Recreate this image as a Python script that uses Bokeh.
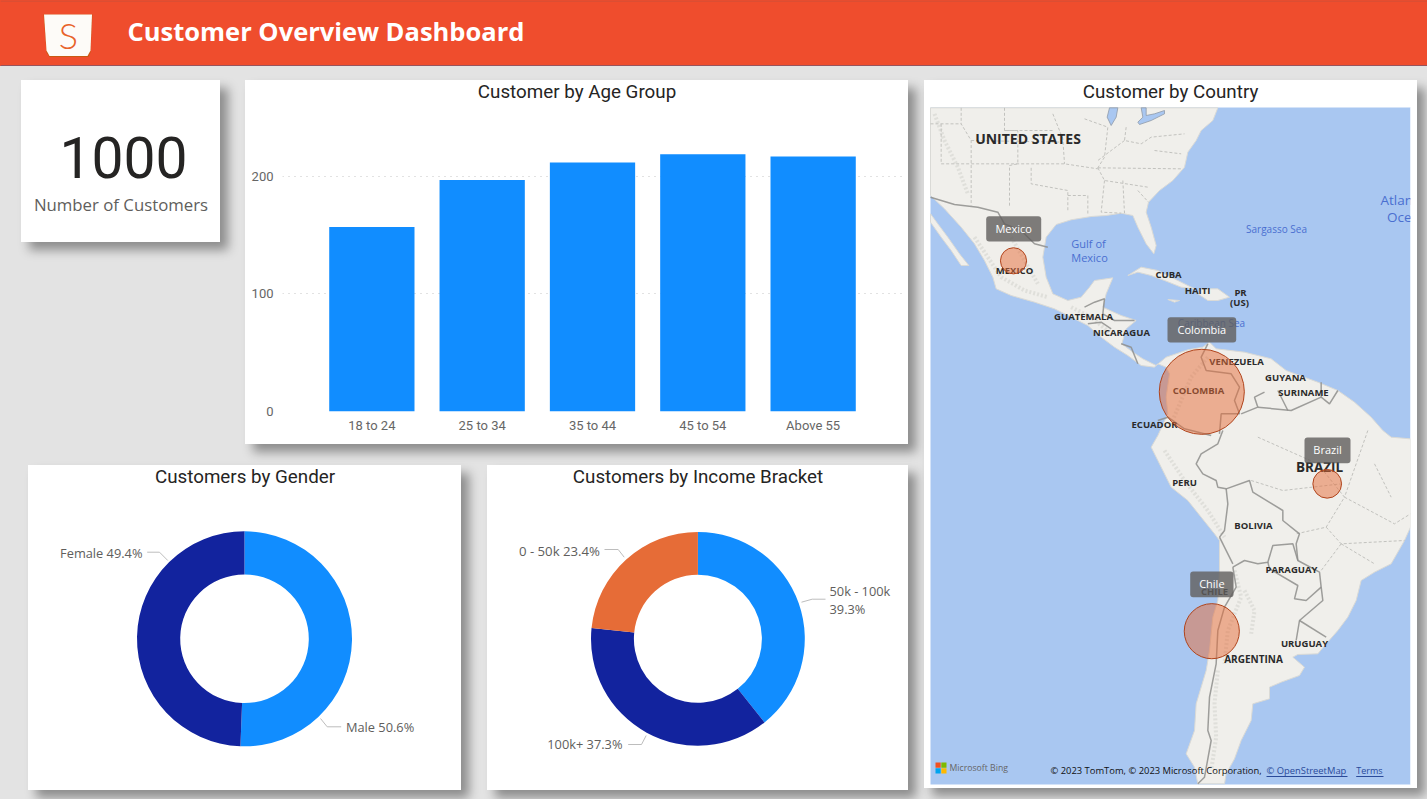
from math import pi, sqrt
from bokeh.plotting import figure
from bokeh.layouts import row, column
from bokeh.models import Range1d, FactorRange, FixedTicker
from bokeh.core.properties import value
from bokeh.embed import file_html
from bokeh.resources import INLINE

# ---------- data ----------
age_groups = ["18 to 24", "25 to 34", "35 to 44", "45 to 54", "Above 55"]
age_counts = [157, 197, 212, 219, 217]
age_ticks = [0, 100, 200]

gender_names = ["Male", "Female"]
gender_share = [50.6, 49.4]
income_names = ["50k - 100k", "100k+", "0 - 50k"]
income_share = [39.3, 37.3, 23.4]

country_names = ["Mexico", "Colombia", "Brazil", "Chile"]
country_customers = [58, 615, 70, 258]

BLUE, NAVY, ORANGE = "#118DFF", "#12239E", "#E66C37"
GREY_BG = "#E3E3E3"
SHADOW = "8px 8px 10px rgba(0,0,0,0.38)"
TITLE_FONT = "Roboto"
BODY_FONT = "Open Sans"
TITLE_SIZE = 18.8
LABEL_SIZE = 12.8


def card(left, top, w, h, margin, shadow=True, bg="white"):
    """A figure whose data coordinates equal the page pixels."""
    st = {"background-color": bg}
    if shadow:
        st["box-shadow"] = SHADOW
    p = figure(width=w, height=h, x_range=Range1d(left, left + w), y_range=Range1d(top + h, top),
               output_backend="svg", toolbar_location=None, min_border=0, margin=margin,
               background_fill_color=None, border_fill_color=None, outline_line_color=None,
               x_axis_location=None, y_axis_location=None, frame_align=False, styles=st)
    p.grid.visible = False
    return p


def put(p, x, y, text, size, color="#252423", font=BODY_FONT, style="normal", align="left", alpha=1.0):
    p.text(x=[x], y=[y - 1], text=[text], text_font=value(font), text_font_size=f"{size}px",
           text_font_style=style, text_color=color, text_align=align, text_baseline="middle",
           text_alpha=alpha)


# ---------- header ----------
hdr = card(0, 0, 1427, 66, (0, 0, 0, 0), shadow=False, bg="#EF4D2D")
hdr.line(x=[0, 1427], y=[65.5, 65.5], line_color="#3F5C8F", line_width=1)
hdr.line(x=[0, 1427], y=[0.5, 0.5], line_color="#C9503A", line_width=1)
hdr.patch(x=[43, 92, 90, 88, 49, 46], y=[14, 14, 52, 56.5, 56.5, 52], fill_color="#C85A12", line_color=None)
hdr.patch(x=[43.5, 91.5, 90, 87, 49, 46], y=[14, 14, 50, 55.5, 55.5, 50], fill_color="#FDFBF8", line_color=None)
put(hdr, 68, 35, "S", 36, color="#E8622A", font="Lato Light", align="center")
put(hdr, 127, 31, "Customer Overview Dashboard", 25.5, color="white", font=BODY_FONT, style="bold")

# ---------- KPI ----------
kpi = card(21, 80, 199, 162, (14, 0, 0, 21))
put(kpi, 123, 158, "1000", 57, color="#252423", font=TITLE_FONT, align="center")
put(kpi, 120.5, 205, "Number of Customers", 16.8, color="#605E5C", align="center")

# ---------- age bars: a title strip above the plot, both forming one card ----------
age_head = card(245, 80, 663, 27, (0, 0, 0, 0), shadow=False)
put(age_head, 576.5, 92, "Customer by Age Group", TITLE_SIZE, font=TITLE_FONT, align="center")

age = figure(width=663, height=337, x_range=FactorRange(factors=age_groups, range_padding=0.124),
             y_range=Range1d(0, 258.7), output_backend="svg", toolbar_location=None,
             min_border_left=37, min_border_right=6, min_border_top=0, min_border_bottom=33,
             margin=(0, 0, 0, 0), outline_line_color=None, background_fill_color=None,
             border_fill_color=None, frame_align=False, styles={"background-color": "white"})
age.vbar(x=age_groups, top=age_counts, width=0.773, fill_color=BLUE, line_color=None)
for ax_ in (age.xaxis, age.yaxis):
    ax_.axis_line_color = None
    ax_.major_tick_line_color = None
    ax_.minor_tick_line_color = None
    ax_.major_tick_out = 0
    ax_.major_tick_in = 0
    ax_.major_label_text_font = TITLE_FONT
    ax_.major_label_text_font_size = "13px"
    ax_.major_label_text_color = "#666666"
age.xaxis.major_label_standoff = 6
age.yaxis.ticker = FixedTicker(ticks=age_ticks)
age.yaxis.major_label_standoff = 9
age.xgrid.visible = False
age.ygrid.ticker = FixedTicker(ticks=age_ticks)
age.ygrid.grid_line_color = "#C4C4C4"
age.ygrid.grid_line_dash = "1 5"
age_card = column(age_head, age, margin=(14, 0, 0, 25), spacing=0,
                  styles={"box-shadow": SHADOW, "background-color": "white"})


# ---------- donuts ----------
def donut(p, cx, cy, r_out, r_in, shares, colors):
    total = sum(shares)
    a = pi / 2
    starts, ends = [], []
    for s in shares:
        starts.append(a)
        a -= 2 * pi * s / total
        ends.append(a)
    p.annular_wedge(x=[cx] * len(shares), y=[cy] * len(shares), inner_radius=r_in, outer_radius=r_out,
                    start_angle=starts, end_angle=ends, direction="clock",
                    fill_color=colors, line_color=None)


def leader(p, xs, ys):
    p.line(x=xs, y=ys, line_color="#BDBDBD", line_width=1)


gen = card(28, 465, 433, 325, (21, 0, 0, 28))
put(gen, 244.5, 477, "Customers by Gender", TITLE_SIZE, font=TITLE_FONT, align="center")
donut(gen, 244.0, 638.3, 107.5, 64.3, gender_share, [BLUE, NAVY])
leader(gen, [146.7, 159, 167.3], [551.7, 551.7, 560])
leader(gen, [320, 326.7, 340.7], [718, 726.3, 726.3])
put(gen, 142, 553, f"{gender_names[1]} {gender_share[1]}%", LABEL_SIZE, color="#605E5C", align="right")
put(gen, 345.5, 727.5, f"{gender_names[0]} {gender_share[0]}%", LABEL_SIZE, color="#605E5C")

inc = card(487, 465, 421, 325, (21, 0, 0, 26))
put(inc, 697.5, 477, "Customers by Income Bracket", TITLE_SIZE, font=TITLE_FONT, align="center")
donut(inc, 697.4, 638.3, 106.9, 64, income_share, [BLUE, NAVY, ORANGE])
leader(inc, [604, 617.7, 623.7], [549, 549, 556.7])
leader(inc, [801, 811.7, 825], [601.7, 598.7, 598.7])
leader(inc, [627.7, 641, 645.7], [744, 744, 735])
put(inc, 599.5, 551, f"{income_names[2]} {income_share[2]}%", LABEL_SIZE + 0.4, color="#605E5C", align="right")
put(inc, 829, 591, income_names[0], LABEL_SIZE, color="#605E5C")
put(inc, 829, 609, f"{income_share[0]}%", LABEL_SIZE, color="#605E5C")
put(inc, 622, 744.5, f"{income_names[1]} {income_share[1]}%", LABEL_SIZE, color="#605E5C", align="right")

# ---------- map (traced outlines, in 3x crop coordinates) ----------
Z1 = lambda pts: ([x / 3 + 924 for x, y in pts], [y / 3 + 80 for x, y in pts])
Z2 = lambda pts: ([x / 3 + 924 for x, y in pts], [y / 3 + 430 for x, y in pts])

coast_a = [(18, 82), (880, 82), (865, 120), (830, 150), (815, 180), (790, 215), (780, 260), (745, 300), (705, 330),
           (672, 365), (665, 395), (680, 440), (695, 495), (688, 520), (665, 490), (640, 440), (625, 405), (590, 398),
           (545, 405), (500, 408), (440, 418), (395, 432), (365, 470), (355, 530), (365, 590), (385, 640), (430, 660),
           (470, 650), (495, 620), (510, 600), (565, 592), (545, 640), (535, 680), (590, 705), (635, 720), (605, 745),
           (592, 790), (625, 815), (655, 835), (695, 855), (725, 830), (790, 808), (835, 800), (855, 785), (875, 805),
           (960, 815), (1040, 835), (1085, 870), (1180, 905), (1240, 930), (1290, 965), (1340, 1010), (1375, 1050),
           (1400, 1070), (1458, 1075)]
coast_b = [(1458, 290), (1440, 330), (1400, 400), (1350, 425), (1310, 450), (1295, 510), (1270, 560), (1240, 600),
           (1205, 640), (1180, 670), (1120, 672), (1105, 680), (1140, 710), (1125, 735), (1070, 755), (1035, 770),
           (1035, 805), (985, 820), (980, 870), (950, 930), (930, 985), (905, 1030), (900, 1060), (820, 1060),
           (810, 1010), (785, 970), (810, 900), (815, 820), (845, 720), (855, 660), (865, 560), (880, 510), (885, 420),
           (885, 330), (870, 310), (830, 260), (790, 210), (740, 170), (700, 90), (680, 50), (700, 15)]
coast_c = [(730, 1000), (725, 950), (735, 880), (725, 860), (700, 850), (690, 860), (650, 855), (610, 825), (570, 800),
           (530, 770), (490, 735), (440, 710), (390, 685), (330, 665), (260, 645), (215, 625), (205, 590), (180, 540),
           (150, 490), (110, 440), (60, 385), (18, 345)]
baja = [(18, 400), (40, 430), (70, 470), (105, 520), (133, 555), (110, 555), (80, 510), (50, 470), (18, 425)]
cuba = [(610, 585), (650, 560), (700, 570), (760, 600), (810, 625), (770, 620), (720, 600), (680, 585), (640, 575)]
hispaniola = [(830, 625), (880, 625), (915, 650), (880, 660), (850, 660), (820, 640)]
jamaica = [(730, 657), (765, 660), (750, 665)]
lake_mich = [(555, 82), (580, 82), (575, 110), (560, 135), (548, 110)]
lake_erie = [(650, 82), (655, 110), (640, 125), (645, 132), (680, 120), (720, 100), (720, 90), (690, 100), (665, 105),
             (665, 82)]

borders_z1 = [
    [(18, 350), (90, 372), (160, 380), (220, 395), (240, 430), (290, 450), (330, 490), (370, 500)],
    [(480, 680), (510, 665), (540, 655), (535, 700), (570, 720), (630, 720)],
    [(490, 730), (530, 725), (560, 745)], [(590, 790), (620, 800), (640, 850)],
    [(850, 790), (830, 830), (845, 870), (920, 880), (945, 920), (930, 960), (945, 1000), (890, 1000), (885, 1060)],
    [(700, 1020), (730, 1010), (780, 1045), (860, 1065)],
    [(1020, 935), (990, 950), (1000, 980), (950, 1000)],
    [(1060, 930), (1090, 990)], [(1190, 905), (1190, 950), (1100, 990), (1000, 980)],
    [(1240, 930), (1215, 970), (1190, 950)],
]
borders_z2 = [
    [(895, 0), (880, 40), (830, 70), (815, 100), (835, 130), (875, 150), (880, 170), (905, 175), (975, 150), (985, 185),
     (1075, 240), (1075, 270), (1125, 310), (1115, 340), (1120, 390), (1185, 425), (1190, 470)],
    [(905, 175), (910, 220), (900, 300), (885, 320)], [(885, 320), (925, 400)],
    [(925, 410), (960, 390), (1000, 400), (1030, 395), (1045, 345), (1105, 340), (1120, 390)],
    [(1030, 395), (1035, 415), (1120, 465), (1110, 505), (1145, 510), (1190, 470)],
    [(1190, 470), (1195, 510), (1125, 570), (1115, 630)], [(1125, 570), (1205, 620)],
    [(925, 410), (935, 470), (900, 530), (880, 600), (875, 700), (855, 800), (850, 900), (860, 930), (840, 1040),
     (820, 1060)],
]
states_z1 = [
    [(110, 82), (110, 130), (140, 180), (140, 375)], [(240, 82), (240, 150), (280, 150), (280, 250), (255, 255), (255, 380)],
    [(50, 250), (420, 250), (520, 265)], [(140, 180), (415, 185)], [(385, 100), (415, 175), (420, 250)],
    [(240, 150), (390, 150)], [(320, 262), (320, 310), (430, 330), (430, 395)], [(430, 345), (490, 345), (490, 405)],
    [(540, 300), (530, 395), (590, 398)], [(595, 300), (600, 398)], [(520, 262), (540, 300), (670, 320)],
    [(520, 262), (770, 265)], [(480, 115), (550, 140), (540, 230), (520, 262)],
    [(605, 140), (600, 180), (650, 190), (680, 170), (780, 160)], [(690, 210), (770, 220)], [(640, 330), (672, 365)],
    [(600, 180), (520, 240)], [(18, 130), (110, 130)], [(50, 130), (50, 250)],
]
states_z2 = [
    [(980, 150), (1075, 180), (1250, 160)], [(1180, 100), (1260, 200), (1205, 290), (1115, 310)],
    [(1260, 200), (1410, 280), (1458, 250)], [(1350, 100), (1400, 200)], [(1205, 290), (1250, 340), (1440, 330)],
    [(1250, 340), (1190, 420)], [(1330, 0), (1260, 200)], [(1000, 20), (1180, 100)], [(1250, 340), (1350, 400)],
]
# faint relief: Sierra Madre and Andes, drawn as soft strokes beside the ranges
relief_z1 = [
    [(150, 470), (190, 530), (230, 590), (300, 630), (370, 650)], [(260, 470), (300, 540), (340, 610)],
    [(440, 680), (500, 710), (560, 760)], [(850, 830), (800, 890), (770, 960), (740, 1030)],
    [(30, 100), (60, 180), (100, 260), (130, 340)],
]
relief_z2 = [
    [(720, 60), (780, 150), (850, 240), (900, 320)], [(930, 420), (950, 500), (910, 600), (900, 700)],
    [(880, 720), (870, 820), (875, 920), (860, 1020)], [(960, 480), (990, 540), (980, 610)],
]

land_labels = [
    ("UNITED STATES", 1027.5, 139, 14), ("MEXICO", 1014, 271, 9.5), ("CUBA", 1168, 275, 9.5), ("HAITI", 1197, 291, 9.5),
    ("PR", 1240, 293, 9.5), ("(US)", 1239, 303, 9.5), ("GUATEMALA", 1083, 317, 9.5), ("NICARAGUA", 1121, 333, 9.5),
    ("VENEZUELA", 1236, 362, 9.5), ("GUYANA", 1285, 378, 9.5), ("SURINAME", 1303, 393, 9.5), ("COLOMBIA", 1198, 391, 9.5),
    ("ECUADOR", 1154, 425, 9.5), ("PERU", 1184, 483, 9.5), ("BOLIVIA", 1253, 526, 9.5), ("BRAZIL", 1319, 467, 13.5),
    ("PARAGUAY", 1291, 570, 9.5), ("CHILE", 1214, 592, 9.5), ("URUGUAY", 1304, 644, 9.5), ("ARGENTINA", 1253, 659, 10),
]
sea_labels = [
    ("Gulf of", 1088, 244, 11), ("Mexico", 1089, 258, 11), ("Sargasso Sea", 1276, 229, 10),
    ("Caribbean Sea", 1211, 323, 10),
]
tip_boxes = [(985.7, 1040.7, 215.7, 241), (1167, 1235.7, 316.7, 342), (1304, 1350, 437, 462.7), (1189.7, 1233, 571, 596.7)]
bubble_x = [1013, 1201.3, 1326.7, 1211.3]
bubble_y = [260.3, 391.3, 483.3, 630.7]

mp = card(924, 80, 493, 708, (14, 0, 0, 16))
put(mp, 1170, 92, "Customer by Country", TITLE_SIZE, font=TITLE_FONT, align="center")
SEA = "#A9C7F1"
mp.quad(left=[930], right=[1410], top=[107], bottom=[784], fill_color=SEA, line_color=None)

ax, ay = Z1(coast_a)
bx, by = Z2(coast_b)
cx, cy = Z1(coast_c)
LAND = "#F0EFEB"
mp.patch(x=ax + bx + cx, y=ay + by + cy, fill_color=LAND, line_color="#DADAD6", line_width=1)
for isle in (baja, cuba, hispaniola, jamaica):
    xs, ys = Z1(isle)
    mp.patch(x=xs, y=ys, fill_color=LAND, line_color="#DADAD6", line_width=1)
for lake in (lake_mich, lake_erie):
    xs, ys = Z1(lake)
    mp.patch(x=xs, y=ys, fill_color=SEA, line_color="#8F9AA8", line_width=0.8)

rel_x = [Z1(s)[0] for s in relief_z1] + [Z2(s)[0] for s in relief_z2]
rel_y = [Z1(s)[1] for s in relief_z1] + [Z2(s)[1] for s in relief_z2]
mp.multi_line(xs=rel_x, ys=rel_y, line_color="#D4D4CF", line_width=4, line_alpha=0.6, line_dash="2 2")
dash_x = [Z1(s)[0] for s in states_z1] + [Z2(s)[0] for s in states_z2]
dash_y = [Z1(s)[1] for s in states_z1] + [Z2(s)[1] for s in states_z2]
mp.multi_line(xs=dash_x, ys=dash_y, line_color="#C2C2BE", line_width=1, line_dash="3 2")
bord_x = [Z1(s)[0] for s in borders_z1] + [Z2(s)[0] for s in borders_z2]
bord_y = [Z1(s)[1] for s in borders_z1] + [Z2(s)[1] for s in borders_z2]
mp.multi_line(xs=bord_x, ys=bord_y, line_color="#8E8E8C", line_width=1.5, line_alpha=0.85)

for name, x, y, sz in land_labels:
    put(mp, x, y, name, sz, color="#2A2A2A", style="bold", align="center")
for name, x, y, sz in sea_labels:
    put(mp, x, y, name, sz, color="#4A6FD0", align="center")
put(mp, 1380, 200, "Atlan", 13.5, color="#4A6FD0")
put(mp, 1386.5, 217, "Oce", 13.5, color="#4A6FD0")
mp.quad(left=[1410], right=[1417], top=[107], bottom=[784], fill_color="white", line_color=None)

mp.scatter(x=bubble_x, y=bubble_y, size=[3.43 * sqrt(v) for v in country_customers], marker="circle",
           fill_color=ORANGE, fill_alpha=0.5, line_color="#B0441C", line_width=1)
mp.quad(left=[b[0] for b in tip_boxes], right=[b[1] for b in tip_boxes], top=[b[2] for b in tip_boxes],
        bottom=[b[3] for b in tip_boxes], fill_color="#605E5C", fill_alpha=0.8, line_color=None, border_radius=3)
for name, b in zip(country_names, tip_boxes):
    put(mp, (b[0] + b[1]) / 2, (b[2] + b[3]) / 2 + 0.5, name, 11, color="white", align="center")

# attribution
mp.quad(left=[935, 940.8, 935, 940.8], right=[940.2, 946, 940.2, 946], top=[762, 762, 767.8, 767.8],
        bottom=[767.2, 767.2, 773, 773], fill_color=["#F25022", "#7FBA00", "#00A4EF", "#FFB900"], line_color=None)
put(mp, 949, 768, "Microsoft Bing", 8.7, color="#666666")
put(mp, 1050, 771, "\u00a9 2023 TomTom, \u00a9 2023 Microsoft Corporation,", 9.4, color="#111111")
put(mp, 1266, 771, "\u00a9 OpenStreetMap", 9.4, color="#2A4A9A")
put(mp, 1355.7, 771, "Terms", 9, color="#2A4A9A")
mp.multi_line(xs=[[1266, 1347], [1355.7, 1383]], ys=[[776, 776], [776, 776]], line_color="#2A4A9A", line_width=1)

# ---------- page ----------
top_row = row(kpi, age_card, styles={"align-items": "flex-start"})
bottom_row = row(gen, inc, styles={"align-items": "flex-start"})
left = column(top_row, bottom_row)
body = row(left, mp, styles={"align-items": "flex-start"})
page = column(hdr, body, width=1427, height=799, styles={"background-color": GREY_BG})

html = file_html(page, INLINE, title="Customer Overview Dashboard")
html = html.replace("<head>", f"<head><style>html,body{{margin:0;padding:0;background:{GREY_BG};overflow:hidden}}</style>", 1)
open("out.html", "w").write(html)
